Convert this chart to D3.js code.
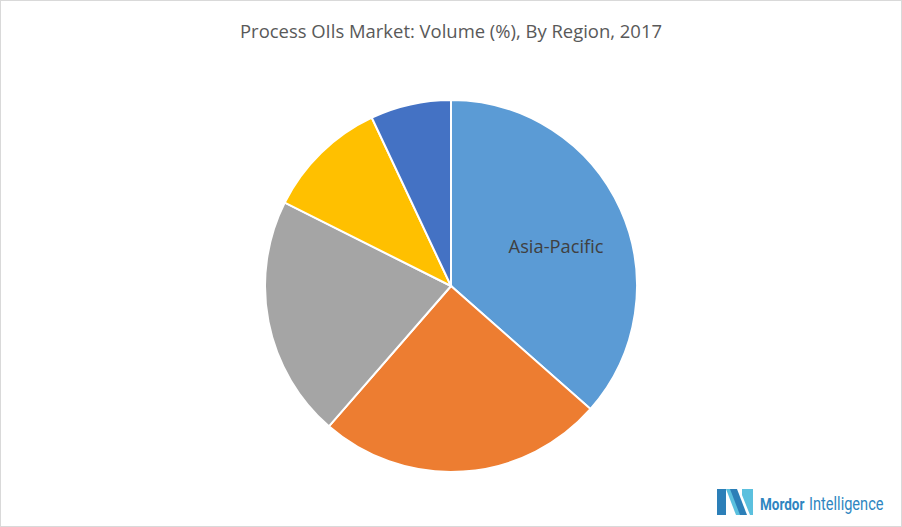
<!DOCTYPE html>
<html><head><meta charset="utf-8">
<script src="https://cdn.jsdelivr.net/npm/d3@7"></script>
<style>body{margin:0;background:#fff}svg{display:block}</style>
</head><body>
<svg id="c" width="902" height="527"></svg>
<script>
const title = "Process OIls Market: Volume (%), By Region, 2017";
const regions = ["Asia-Pacific", "Europe", "North America", "South America", "Middle-East & Africa"];
const shares = [36.5, 24.9, 21.0, 10.6, 7.0];
const colors = ["#5B9BD5", "#ED7D31", "#A5A5A5", "#FFC000", "#4472C4"];
const labelled = ["Asia-Pacific"];

const svg = d3.select("#c");
svg.append("rect").attr("x",0.5).attr("y",0.5).attr("width",901).attr("height",526)
  .attr("fill","#fff").attr("stroke","#D9D9D9");

svg.append("text").attr("x",451).attr("y",38).attr("text-anchor","middle")
  .attr("font-family","'Open Sans', sans-serif").attr("font-size",18.5).attr("fill","#595959")
  .attr("textLength",422).attr("lengthAdjust","spacingAndGlyphs")
  .text(title);

const cx = 451, cy = 286, r = 186;
const data = regions.map((n,i)=>({name:n, value:shares[i], color:colors[i]}));
const pie = d3.pie().value(d=>d.value).sort(null);
const arc = d3.arc().innerRadius(0).outerRadius(r);
const g = svg.append("g").attr("transform",`translate(${cx},${cy})`);
const arcs = pie(data);
g.selectAll("path").data(arcs).join("path")
  .attr("d",arc).attr("fill",d=>d.data.color).attr("stroke","#fff").attr("stroke-width",2);

const labelArc = d3.arc().innerRadius(r*0.62).outerRadius(r*0.62);
g.selectAll("text.lbl").data(arcs.filter(d=>labelled.includes(d.data.name))).join("text")
  .attr("class","lbl")
  .attr("x",d=>labelArc.centroid(d)[0]).attr("y",d=>labelArc.centroid(d)[1]+7)
  .attr("text-anchor","middle").attr("dominant-baseline","central")
  .attr("font-family","'Open Sans', sans-serif").attr("font-size",18).attr("fill","#404040")
  .attr("textLength",95).attr("lengthAdjust","spacingAndGlyphs")
  .text(d=>d.data.name);

// logo
const L = svg.append("g").attr("transform","translate(717,489)");
L.append("polygon").attr("points","0,0 9,0 9,26 0,26").attr("fill","#2C7FB8");
L.append("polygon").attr("points","9,0 15,0 25,26 19,26").attr("fill","#5BC0DE");
L.append("polygon").attr("points","13,0 20,0 30,26 23,26").attr("fill","#2C7FB8");
L.append("polygon").attr("points","25,0 36,0 36,26 33,26 25,6").attr("fill","#5BC0DE");
svg.append("text").attr("transform","translate(760,510) scale(1,1.25)")
  .attr("font-family","'Roboto', sans-serif").attr("font-size",13.5).attr("font-weight","bold").attr("fill","#2E86C1")
  .text("Mordor");
svg.append("text").attr("transform","translate(809,510) scale(1,1.25)")
  .attr("font-family","'Roboto', sans-serif").attr("font-size",14.6).attr("fill","#2E86C1")
  .text("Intelligence");
</script>
</body></html>
